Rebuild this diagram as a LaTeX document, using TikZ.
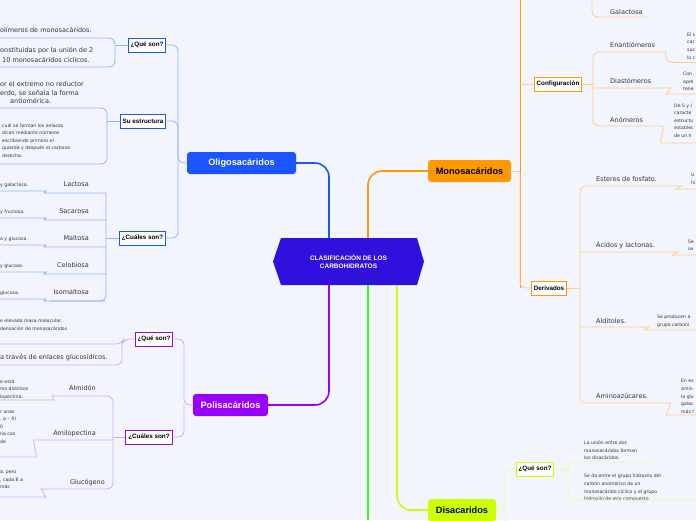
\documentclass[tikz,border=0pt]{standalone}
\usepackage{fontspec}
\setmainfont{DejaVu Sans}
\newfontfamily\lab{Liberation Sans}
\begin{document}
\begin{tikzpicture}[x=1pt,y=-1pt,
  t/.style={anchor=west,inner sep=0pt,font=\fontsize{6.5}{8}\selectfont,text=black!80},
  s/.style={anchor=west,inner sep=0pt,font=\fontsize{4.6}{7.6}\selectfont,text=black!80,align=left},
  nm/.style={anchor=west,inner sep=0pt,font=\fontsize{6.5}{8}\selectfont,text=black!80},
  sub/.style={draw=#1,line width=1pt,fill=white,font=\lab\bfseries\fontsize{6.3}{7}\selectfont,inner sep=2.5pt,minimum height=14pt},
  main/.style={fill=#1,rounded corners=3pt,font=\lab\bfseries\fontsize{9.2}{10}\selectfont,minimum height=22pt,inner xsep=6pt},
  ln/.style={draw=#1,line width=0.8pt,rounded corners=6pt},
  thick/.style={draw=#1,line width=1.6pt,rounded corners=14pt}]
\definecolor{bg}{HTML}{F2F5FE}
\definecolor{cB}{HTML}{1A55FF}\definecolor{lB}{HTML}{8FB2FF}
\definecolor{cP}{HTML}{9900FF}\definecolor{lP}{HTML}{D6A6FF}
\definecolor{cO}{HTML}{FF9900}\definecolor{lO}{HTML}{FFCF85}
\definecolor{cY}{HTML}{CCFF00}\definecolor{lY}{HTML}{E6FF99}
\definecolor{cG}{HTML}{33FF00}\definecolor{cC}{HTML}{3010DD}
\fill[bg] (0,0) rectangle (696,520);
\useasboundingbox (0,0) rectangle (696,520);
% connectors from centre
\draw[thick=cB] (329,240) -- (329,163) -- (296,163);
\draw[thick=cO] (368,240) -- (368,171) -- (428,171);
\draw[thick=cP] (329,283) -- (329,405) -- (268,405);
\draw[draw=cG,line width=1.6pt] (368,283) -- (368,520);
\draw[thick=cY] (397,283) -- (397,510) -- (428,510);
% centre
\fill[cC] (281,238) -- (417,238) -- (424,261.5) -- (417,285) -- (281,285) -- (273,261.5) -- cycle;
\node[font=\lab\bfseries\fontsize{6.5}{7.8}\selectfont,text=white,align=center] (c) at (348.5,261.5) {CLASIFICACIÓN DE LOS\\CARBOHIDRATOS};
% main nodes
\node[main=cB,text=white,minimum width=109pt] (oli) at (241.5,163) {Oligosacáridos};
\node[main=cO,text=black,minimum width=83pt] (mono) at (469.5,171) {Monosacáridos};
\node[main=cP,text=white,minimum width=75pt] (poli) at (230.5,405) {Polisacáridos};
\node[main=cY,text=black,minimum width=68pt] (di) at (462,510) {Disacaridos};
% ---------- Oligosacáridos
\node[sub=cB] (oq) at (147,45) {¿Qué son?};
\node[sub=cB] (oe) at (143,121) {Su estructura};
\node[sub=cB] (oc) at (142.5,238) {¿Cuáles son?};
\draw[ln=lB] (oli.west) -- (178,163) |- (oq.east);
\draw[ln=lB] (178,163) |- (oe.east);
\draw[ln=lB] (178,163) |- (oc.east);
\node[t] (o1) at (0,30) {olímeros de monosacáridos.};
\node[t] (o2) at (0,51) {onstituidas por la unión de 2};
\node[t] (o3) at (2,60) {10 monosacáridos cíclicos.};
\draw[ln=lB] (oq.west) -- (115,45);
\draw[ln=lB] (-5,38) -- (115,38) -- (115,67) -- (-5,67);
\node[t] (o4) at (0,84) {or el extremo no reductor};
\node[t] (o5) at (0,93) {erdo, se señala la forma};
\node[t] (o6) at (10,101) {antiomérica.};
\draw[ln=lB] (oe.west) -- (107,121);
\draw[ln=lB] (-5,108) -- (107,108) -- (107,164) -- (-5,164);
\node[s] (o7) at (2,140.5) {cuál se forman los enlaces\\dican mediante números\\escribiendo primero el\\quierda y después el carbono\\derecha.};
\foreach \n/\y/\txt/\sx in {Lactosa/184/y galactosa./0,Sacarosa/211/y fructosa./0,Maltosa/238/a y glucosa./0,Celobiosa/265/y glucosa./0,Isomaltosa/292/glucosa./0}{
  \node[nm,anchor=east] (\n) at (89,\y) {\n};
  \node[s] at (0,\y+1) {\txt};
  \draw[ln=lB] (-5,\y+7) -- (40,\y+7) to[out=0,in=180] (50,\y+9) -- (106,\y+9);
}
\draw[ln=lB] (106,193) -- (106,301) -- (50,301);
\draw[ln=lB] (106,238) -- (oc.west);
% ---------- Polisacáridos
\node[sub=cP] (pq) at (154,339) {¿Qué son?};
\node[sub=cP] (pc) at (149,437) {¿Cuáles son?};
\draw[ln=lP] (poli.west) -- (184,405) |- (pq.east);
\draw[ln=lP] (184,405) |- (pc.east);
\node[s] at (0,324.5) {e elevada masa molecular,\\densación de monosacáridos};
\node[t] at (0,358) {a través de enlaces glucosídicos.};
\draw[ln=lP] (pq.west) -- (124,339) -- (122,344) -- (-5,344);
\draw[ln=lP] (122,344) -- (122,365) -- (-5,365);
\node[nm,anchor=east] (alm) at (96,388) {Almidón};
\node[nm,anchor=east] (ami) at (96,434) {Amilopectina};
\node[nm,anchor=east] (glu) at (105,483) {Glucógeno};
\draw[ln=lP] (-5,400) -- (48,400) to[out=0,in=180] (58,396) -- (113,396) -- (113,489) -- (47,489) to[out=180,in=0] (40,497) -- (-5,497);
\draw[ln=lP] (113,440) -- (40,440) to[out=180,in=0] (30,457) -- (-5,457);
\draw[ln=lP] (113,437) -- (pc.west);
\node[s] at (0,389.5) {e está\\ros distintos\\ lopectina.};
\node[s] at (0,427) {r unas\\, α – 4)\\0\\na con\\ de};
\node[s] at (0,480) {a, pero\\, cada 8 a\\más};
% ---------- Monosacáridos
\node[sub=cO] (mc) at (558,84) {Configuración};
\node[sub=cO] (md) at (549,288) {Derivados};
\draw[ln=lO] (mono.east) -- (520,171);
\draw[draw=cO,line width=0.8pt] (520,0) -- (520,288);
\draw[ln=lO] (520,84) -- (mc.west);
\draw[ln=lO] (520,171) |- (md.west);
\node[nm] (gal) at (610,12) {Galactosa};
\draw[ln=lO] (592,-5) -- (592,17) -- (648,17);
\node[nm] (ena) at (610,45) {Enantiómeros};
\node[nm] (dia) at (610,81) {Diastómeros};
\node[nm] (ano) at (610,120) {Anómeros};
\draw[ln=lO] (mc.east) -- (593,84);
\draw[ln=lO] (670,62) to[out=180,in=0] (660,52) -- (593,52) -- (593,126) -- (657,126) to[out=0,in=180] (667,143) -- (700,143);
\draw[ln=lO] (593,88) -- (665,88) to[out=0,in=180] (672,94) -- (700,94);
\draw[ln=lO] (670,62) -- (700,62);
\node[s] at (687,46) {El s\\car\\sus\\lo c};
\node[s] at (683,81.5) {Con\\apre\\tene};
\node[s] at (674,120.5) {De 5 y l\\caracte\\estructu\\establec\\de un h};
\node[nm] (est) at (596,179) {Esteres de fosfato.};
\node[nm] (aci) at (596,245) {Ácidos y lactonas.};
\node[nm] (ald) at (596,321) {Alditoles.};
\node[nm] (ami2) at (596,396) {Aminoazúcares.};
\draw[ln=lO] (md.east) -- (580,288);
\draw[ln=lO] (700,189) -- (682,189) to[out=180,in=0] (676,186) -- (580,186) -- (580,403) -- (665,403) to[out=0,in=180] (672,415) -- (700,415);
\draw[ln=lO] (580,252) -- (672,252) to[out=0,in=180] (678,255) -- (700,255);
\draw[ln=lO] (580,327) -- (643,327) to[out=0,in=180] (650,330) -- (700,330);
\node[s] at (691,179) {U\\hi};
\node[s] at (688,245.5) {Se\\ox};
\node[s] at (657,321.5) {Se producen a\\grupo carboni};
\node[s] at (681,396.5) {En es\\amin\\la glu\\galac\\más f};
% ---------- Disacaridos
\node[sub=cY] (dq) at (535,469) {¿Qué son?};
\draw[ln=lY] (di.east) -- (505,510) |- (dq.west);
\draw[ln=lY] (505,510) -- (505,525);
\node[s] at (584,450.5) {La unión entre dos\\monosacáridos forman\\los disacáridos.};
\node[s] at (584,488) {Se da entre el grupo hidroxilo del\\carbón anomérico de un\\monosacárido cíclico y el grupo\\hidroxilo de otro compuesto.};
\draw[ln=lY] (dq.east) -- (568,469);
\draw[ln=lY] (653,462) -- (568,462) -- (568,500) -- (700,500);
\end{tikzpicture}
\end{document}
